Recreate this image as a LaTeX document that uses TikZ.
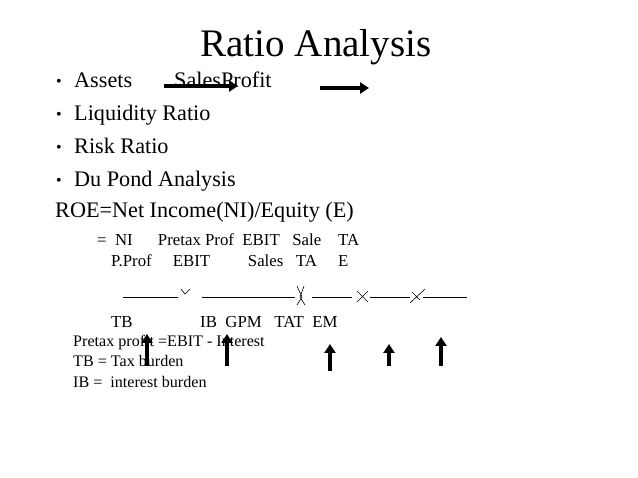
\documentclass[tikz,border=0pt]{standalone}
\usepackage{fontspec}
\setmainfont{Liberation Serif}
\usetikzlibrary{arrows.meta}
\begin{document}
\begin{tikzpicture}[x=1pt,y=-1pt,
  t/.style={anchor=base west,inner sep=0pt},
  big/.style={t,font=\fontsize{22.2}{25}\selectfont},
  mid/.style={t,font=\fontsize{16.8}{19}\selectfont},
  sml/.style={t,font=\fontsize{16.1}{18}\selectfont},
  thick arrow/.style={line width=3.5pt,-{Triangle[length=9pt,width=11pt]}},
  frac/.style={line width=0.6pt},
  cross/.style={line width=0.6pt}]
\useasboundingbox (0,0) rectangle (638,478);
\node[anchor=base,inner sep=0pt,font=\fontsize{39}{44}\selectfont] (title) at (316,57) {Ratio Analysis};
\foreach \y/\s [count=\i] in {88/Assets,121/Liquidity Ratio,154/Risk Ratio,187/Du Pond Analysis}{
  \node[big,font=\fontsize{16}{18}\selectfont] (b\i) at (56,\y-1) {\textbullet};
  \node[big] (l\i) at (74,\y) {\s};
}
\node[big] (sales) at (174,88) {SalesProfit};
\node[big] (roe) at (55,218) {ROE=Net Income(NI)/Equity (E)};
\node[mid] (r1) at (97,246) {=\ \ NI\ \ \ \ \ \ Pretax Prof\ \ EBIT\ \ \ Sale\ \ \ \ TA};
\node[mid] (r2) at (111,267) {P.Prof\ \ \ \ \ EBIT\ \ \ \ \ \ \ \ \ Sales\ \ \ TA\ \ \ \ \ E};
\node[mid] (r3) at (111,328) {TB};
\node[mid] (r4) at (200,328) {IB\ \ GPM\ \ \ TAT\ \ EM};
\node[sml] (n1) at (73,347) {Pretax profit =EBIT - Interest};
\node[sml] (n2) at (73,367) {TB = Tax burden};
\node[sml] (n3) at (73,388) {IB =\ \ interest burden};
% fraction lines
\coordinate (f1a) at (123,297); \coordinate (f1b) at (178,297);
\coordinate (f2a) at (202,297); \coordinate (f2b) at (295,297);
\coordinate (f3a) at (312,297); \coordinate (f3b) at (352,297);
\coordinate (f4a) at (370,297); \coordinate (f4b) at (410,297);
\coordinate (f5a) at (423,297); \coordinate (f5b) at (467,297);
\foreach \i in {1,...,5} \draw[frac] (f\i a) -- (f\i b);
% crosses
\draw[cross] (181,289) -- (185,294) -- (190,289);
\draw[cross] (297,286) -- (302,297) -- (297,305) (304,286) -- (300,297) -- (305,305);
\draw[cross] (357,291) -- (368,302) (357,302) -- (368,291);
\draw[cross] (410,303) -- (425,289) (412,292) -- (420,300);
% arrows
\coordinate (a1s) at (164,86); \coordinate (a1e) at (238,86);
\coordinate (a2s) at (320,88); \coordinate (a2e) at (369,88);
\draw[thick arrow] (a1s) -- (a1e);
\draw[thick arrow] (a2s) -- (a2e);
\foreach \x/\ya/\yb [count=\i] in {147/366/334,227/366/334,330/371/344,389/366/344,441/366/337}{
  \coordinate (u\i s) at (\x,\ya); \coordinate (u\i e) at (\x,\yb);
  \draw[thick arrow] (u\i s) -- (u\i e);
}
\end{tikzpicture}
\end{document}
